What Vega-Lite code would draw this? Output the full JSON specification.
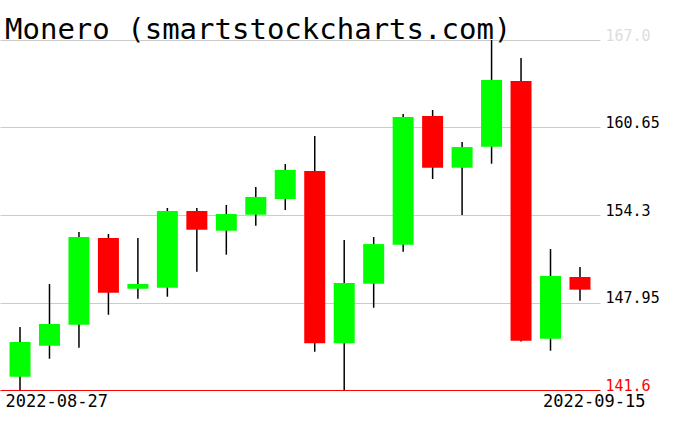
{
  "$schema": "https://vega.github.io/schema/vega-lite/v6.json",
  "width": 600,
  "height": 350,
  "autosize": {"type": "none"},
  "padding": {"left": 0, "top": 40, "right": 76, "bottom": 41},
  "background": "white",
  "title": {
    "text": "Monero (smartstockcharts.com)",
    "anchor": "start",
    "orient": "top",
    "frame": "group",
    "offset": 2,
    "dx": 5,
    "dy": 42,
    "baseline": "alphabetic",
    "font": "DejaVu Sans Mono",
    "fontSize": 29,
    "fontWeight": "normal",
    "color": "black"
  },
  "config": {
    "view": {"stroke": null},
    "axis": {"domain": false, "ticks": false}
  },
  "data": {
    "values": [
      {"date": "2022-08-27T00:00:00", "open": 142.57, "high": 146.17, "low": 141.6, "close": 145.08},
      {"date": "2022-08-28T00:00:00", "open": 144.81, "high": 149.29, "low": 143.87, "close": 146.39},
      {"date": "2022-08-29T00:00:00", "open": 146.34, "high": 153.07, "low": 144.67, "close": 152.7},
      {"date": "2022-08-30T00:00:00", "open": 152.63, "high": 152.92, "low": 147.06, "close": 148.66},
      {"date": "2022-08-31T00:00:00", "open": 148.95, "high": 152.63, "low": 148.23, "close": 149.29},
      {"date": "2022-09-01T00:00:00", "open": 149.02, "high": 154.81, "low": 148.37, "close": 154.59},
      {"date": "2022-09-02T00:00:00", "open": 154.59, "high": 154.81, "low": 150.18, "close": 153.23},
      {"date": "2022-09-03T00:00:00", "open": 153.16, "high": 155.03, "low": 151.42, "close": 154.37},
      {"date": "2022-09-04T00:00:00", "open": 154.32, "high": 156.33, "low": 153.52, "close": 155.61},
      {"date": "2022-09-05T00:00:00", "open": 155.46, "high": 158.0, "low": 154.66, "close": 157.57},
      {"date": "2022-09-06T00:00:00", "open": 157.49, "high": 160.03, "low": 144.38, "close": 144.99},
      {"date": "2022-09-07T00:00:00", "open": 144.99, "high": 152.49, "low": 141.6, "close": 149.36},
      {"date": "2022-09-08T00:00:00", "open": 149.31, "high": 152.7, "low": 147.57, "close": 152.19},
      {"date": "2022-09-09T00:00:00", "open": 152.14, "high": 161.63, "low": 151.64, "close": 161.41},
      {"date": "2022-09-10T00:00:00", "open": 161.48, "high": 161.92, "low": 156.91, "close": 157.73},
      {"date": "2022-09-11T00:00:00", "open": 157.73, "high": 159.6, "low": 154.3, "close": 159.23},
      {"date": "2022-09-12T00:00:00", "open": 159.26, "high": 167.0, "low": 158.02, "close": 164.1},
      {"date": "2022-09-13T00:00:00", "open": 164.02, "high": 165.69, "low": 145.12, "close": 145.18},
      {"date": "2022-09-14T00:00:00", "open": 145.32, "high": 151.83, "low": 144.45, "close": 149.87},
      {"date": "2022-09-15T00:00:00", "open": 149.8, "high": 150.53, "low": 148.08, "close": 148.88}
    ]
  },
  "encoding": {
    "x": {
      "field": "date",
      "type": "temporal",
      "scale": {
        "nice": false,
        "padding": 0,
        "domain": [
          {"year": 2022, "month": 8, "date": 26, "hours": 7, "minutes": 42},
          {"year": 2022, "month": 9, "date": 15, "hours": 16, "minutes": 18}
        ]
      },
      "axis": {
        "title": null,
        "grid": false,
        "values": [
          {"year": 2022, "month": 8, "date": 27},
          {"year": 2022, "month": 9, "date": 15}
        ],
        "format": "%Y-%m-%d",
        "labelFont": "DejaVu Sans Mono",
        "labelFontSize": 17,
        "labelColor": "black",
        "labelPadding": 3,
        "labelBaseline": "top",
        "labelAlign": {"expr": "datum.index == 0 ? 'left' : 'right'"},
        "labelOffset": {"expr": "datum.index == 0 ? -15 : 65"}
      }
    }
  },
  "layer": [
    {
      "mark": {"type": "rule", "color": "black", "strokeWidth": 1.5},
      "encoding": {
        "y": {
          "field": "low",
          "type": "quantitative",
          "scale": {"domain": [141.6, 167.0], "nice": false, "zero": false},
          "axis": {
            "orient": "right",
            "title": null,
            "values": [141.6, 147.95, 154.3, 160.65, 167.0],
            "labelExpr": "datum.value == 167 ? '167.0' : format(datum.value, '')",
            "labelFont": "DejaVu Sans Mono",
            "labelFontSize": 15,
            "labelPadding": 5,
            "labelBaseline": "alphabetic",
            "labelColor": {"expr": "datum.value == 141.6 ? '#ff0000' : (datum.value == 167 ? '#dddddd' : '#000000')"},
            "grid": true,
            "gridColor": {"expr": "datum.value == 141.6 ? '#ff0000' : '#cccccc'"},
            "gridWidth": 1.2
          }
        },
        "y2": {"field": "high"}
      }
    },
    {
      "mark": {"type": "bar", "size": 21},
      "encoding": {
        "y": {"field": "open", "type": "quantitative"},
        "y2": {"field": "close"},
        "color": {
          "condition": {"test": "datum.open < datum.close", "value": "#00ff00"},
          "value": "#ff0000"
        }
      }
    }
  ]
}
